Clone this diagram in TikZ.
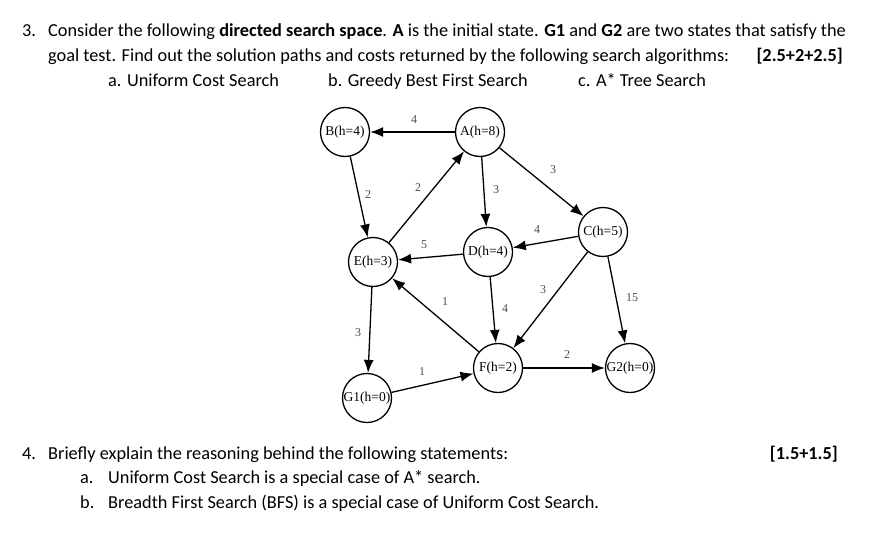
\documentclass[tikz,border=0pt]{standalone}
\usepackage{fontspec}
\setmainfont{Carlito}
\newfontfamily\gfont{Liberation Serif}
\usetikzlibrary{arrows.meta}
\begin{document}
\begin{tikzpicture}[x=1pt,y=-1pt,
 st/.style={circle,draw,line width=1.3pt,minimum size=49pt,inner sep=0pt,font=\gfont\fontsize{13.5}{13.5}\selectfont},
 ed/.style={line width=1.3pt,-{Latex[length=13pt,width=10pt]}},
 lb/.style={font=\gfont\fontsize{12}{12}\selectfont,text=black!70},
 tx/.style={anchor=base west,inner sep=0pt,font=\fontsize{18.3}{18.3}\selectfont}]
\useasboundingbox (0,0) rectangle (874,532);
\node[tx] (q3n) at (22,37) {3.};
\node[tx] (q3a) at (48,37) {Consider the following \textbf{directed search space}. \textbf{A} is the initial state. \textbf{G1} and \textbf{G2} are two states that satisfy the};
\node[tx] (q3b) at (48,62) {goal test. Find out the solution paths and costs returned by the following search algorithms:};
\node[tx,anchor=base east] (q3m) at (843,62) {\textbf{[2.5+2+2.5]}};
\node[tx] (qa) at (108,87) {a. Uniform Cost Search};
\node[tx] (qb) at (328,87) {b. Greedy Best First Search};
\node[tx] (qc) at (578,87) {c. A* Tree Search};
\node[tx] (q4n) at (22,459) {4.};
\node[tx] (q4a) at (48,459) {Briefly explain the reasoning behind the following statements:};
\node[tx,anchor=base east] (q4m) at (838,459) {\textbf{[1.5+1.5]}};
\node[tx] (q4x) at (80,483) {a.};
\node[tx] (q4y) at (108,483) {Uniform Cost Search is a special case of A* search.};
\node[tx] (q4z) at (80,508) {b.};
\node[tx] (q4w) at (108,508) {Breadth First Search (BFS) is a special case of Uniform Cost Search.};

\node[st] (B) at (345,132) {B(h=4)};
\node[st] (A) at (480,132) {A(h=8)};
\node[st] (C) at (603,232) {C(h=5)};
\node[st] (D) at (488,252) {D(h=4)};
\node[st] (E) at (373,262) {E(h=3)};
\node[st] (F) at (498,368) {F(h=2)};
\node[st] (G2) at (630,368) {G2(h=0)};
\node[st] (G1) at (367,398) {G1(h=0)};
\draw[ed] (A) -- (B);
\draw[ed] (B) -- (E);
\draw[ed] (E) -- (A);
\draw[ed] (A) -- (D);
\draw[ed] (A) -- (C);
\draw[ed] (C) -- (D);
\draw[ed] (D) -- (E);
\draw[ed] (F) -- (E);
\draw[ed] (D) -- (F);
\draw[ed] (C) -- (F);
\draw[ed] (C) -- (G2);
\draw[ed] (E) -- (G1);
\draw[ed] (G1) -- (F);
\draw[ed] (F) -- (G2);
\node[lb] (l1) at (414,120) {4};
\node[lb] (l2) at (368,195) {2};
\node[lb] (l3) at (418,188) {2};
\node[lb] (l4) at (496,190) {3};
\node[lb] (l5) at (553,170) {3};
\node[lb] (l6) at (537,230) {4};
\node[lb] (l7) at (424,245) {5};
\node[lb] (l8) at (445,302) {1};
\node[lb] (l9) at (505,309) {4};
\node[lb] (l10) at (543,290) {3};
\node[lb] (l11) at (632,298) {15};
\node[lb] (l12) at (358,333) {3};
\node[lb] (l13) at (422,372) {1};
\node[lb] (l14) at (567,355) {2};
\end{tikzpicture}
\end{document}
